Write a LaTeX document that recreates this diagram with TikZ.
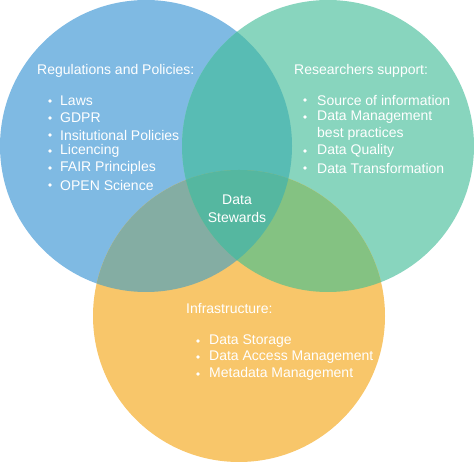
\documentclass[tikz,border=0pt]{standalone}
\usepackage{fontspec}
\setmainfont{Liberation Sans}
\definecolor{cB}{HTML}{7FBAE3}
\definecolor{cG}{HTML}{88D5BE}
\definecolor{cY}{HTML}{F8C66A}
\definecolor{cBG}{HTML}{58BCB4}
\definecolor{cBY}{HTML}{84ADA3}
\definecolor{cGY}{HTML}{84C282}
\definecolor{cBGY}{HTML}{55B7A0}
\begin{document}
\begin{tikzpicture}[x=1pt,y=-1pt,
  txt/.style={text=white,font=\fontsize{14}{16}\selectfont,inner sep=0pt,anchor=west},
  ctxt/.style={text=white,font=\fontsize{14}{16}\selectfont,inner sep=0pt},
  dot/.style={circle,fill=white,inner sep=0pt,minimum size=3.6pt}]
\useasboundingbox (0,0) rectangle (474,462);
\coordinate (B) at (146,146);
\coordinate (G) at (328,146);
\coordinate (Y) at (239,316);
\def\R{146pt}
\fill[cB] (B) circle[radius=\R];
\fill[cG] (G) circle[radius=\R];
\fill[cY] (Y) circle[radius=\R];
\begin{scope}
  \clip (B) circle[radius=\R];
  \fill[cBG] (G) circle[radius=\R];
  \fill[cBY] (Y) circle[radius=\R];
\end{scope}
\begin{scope}
  \clip (G) circle[radius=\R];
  \fill[cGY] (Y) circle[radius=\R];
\end{scope}
\begin{scope}
  \clip (B) circle[radius=\R];
  \clip (G) circle[radius=\R];
  \fill[cBGY] (Y) circle[radius=\R];
\end{scope}
% left block
\node[txt] (rp) at (37,71) {Regulations and Policies:};
\foreach \n/\t/\y in {l1/Laws/101,l2/GDPR/118,l3/Insitutional Policies/135,l4/Licencing/151,l5/FAIR Principles/168,l6/OPEN Science/185}{
  \node[dot] (\n d) at (50,\y) {};
  \node[txt] (\n) at (60,\y) {\t};
}
% right block
\node[txt] (rs) at (294,71) {Researchers support:};
\foreach \n/\t/\y in {r1/Source of information/100,r2/Data Management/117,r3/Data Quality/151,r4/Data Transformation/168}{
  \node[dot] (\n d) at (305,\y) {};
  \node[txt] (\n) at (317,\y) {\t};
}
\node[txt] (r2b) at (317,134) {best practices};
% center
\node[ctxt] (ds1) at (237,200) {Data};
\node[ctxt] (ds2) at (237,217) {Stewards};
% bottom block
\node[txt] (inf) at (186,309) {Infrastructure:};
\foreach \n/\t/\y in {b1/Data Storage/341,b2/Data Access Management/357,b3/Metadata Management/374}{
  \node[dot] (\n d) at (198,\y) {};
  \node[txt] (\n) at (209,\y) {\t};
}
\end{tikzpicture}
\end{document}
